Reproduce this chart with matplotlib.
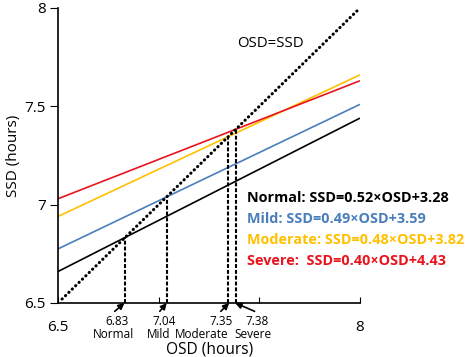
import matplotlib
matplotlib.use("Agg")
import matplotlib.pyplot as plt

# fitted SSD = slope * OSD + intercept, per severity group
groups = ["Normal", "Mild", "Moderate", "Severe"]
slopes = [0.52, 0.49, 0.48, 0.40]
intercepts = [3.28, 3.59, 3.82, 4.43]
crossings = [6.83, 7.04, 7.35, 7.38]
crossing_labels = ["6.83", "7.04", "7.35", "7.38"]
colors = ["#000000", "#4A7EBB", "#FFC000", "#E8141E"]

osd_range = [6.5, 8.0]
identity_x = [6.52, 7.99]

plt.rcParams["font.family"] = ["Open Sans", "DejaVu Sans"]

fig = plt.figure(figsize=(4.74, 3.57), dpi=100)
ax = fig.add_axes([0.1224, 0.1513, 0.637, 0.8263])

for slope, icpt, col in zip(slopes, intercepts, colors):
    ys = [slope * x + icpt for x in osd_range]
    ax.plot(osd_range, ys, color=col, lw=1.2, solid_capstyle="butt")

# OSD = SSD
ax.plot(identity_x, identity_x, color="black", lw=2.2,
        linestyle=(0, (0.1, 1.45)), dash_capstyle="round")
ax.text(7.39, 7.82, "OSD=SSD", fontsize=10.8, ha="left", va="center")

# drop lines at the crossings
for slope, icpt in zip(slopes, intercepts):
    x = icpt / (1 - slope)
    ax.plot([x, x], [6.5, x], color="black", lw=1.5,
            linestyle=(0, (1.9, 0.9)))

# arrows and labels below the axis
offsets = [-7, -5, -6, 14]
for x, dx in zip(crossings, offsets):
    ax.annotate("", xy=(x, 6.5), xytext=(dx, -6),
                textcoords="offset points",
                arrowprops=dict(arrowstyle="-|>", color="black", lw=1.2,
                                mutation_scale=9, shrinkA=0, shrinkB=0),
                annotation_clip=False)
label_dx = [-5, -2, -6, 16]
for x, lab, dx in zip(crossings, crossing_labels, label_dx):
    ax.annotate(lab, xy=(x, 6.5), xytext=(dx, -13), textcoords="offset points",
                ha="center", va="center", fontsize=8.5)
group_dx = [-8, -6, -20, 13]
for x, grp, dx in zip(crossings, groups, group_dx):
    ax.annotate(grp, xy=(x, 6.5), xytext=(dx, -23), textcoords="offset points",
                ha="center", va="center", fontsize=8.5)

# equations
for k, (grp, slope, icpt, col) in enumerate(zip(groups, slopes, intercepts, colors)):
    sep = ":  " if grp == "Severe" else ": "
    label = f"{grp}{sep}SSD={slope:.2f}\u00d7OSD+{icpt:.2f}"
    fig.text(247 / 474, 1 - (198 + 21 * k) / 357, label, color=col,
             fontsize=10.4, fontweight="bold", ha="left", va="center")

ax.set_xlim(6.5, 8)
ax.set_ylim(6.5, 8)
ax.set_xticks([6.5, 7, 7.5, 8])
ax.set_xticklabels(["6.5", "", "", "8"])
ax.set_yticks([6.5, 7, 7.5, 8])
ax.set_yticklabels(["6.5", "7", "7.5", "8"])
ax.tick_params(axis="x", direction="in", length=4, pad=12, labelsize=11)
ax.tick_params(axis="y", direction="out", length=6, pad=3, labelsize=11)
for side in ["top", "right"]:
    ax.spines[side].set_visible(False)
for side in ["left", "bottom"]:
    ax.spines[side].set_linewidth(1.2)

fig.text(210 / 474, 1 - 350 / 357, "OSD (hours)", fontsize=11.2,
         ha="center", va="center")
ax.set_ylabel("SSD (hours)", fontsize=11, labelpad=2)

fig.savefig("out.png", dpi=100)
